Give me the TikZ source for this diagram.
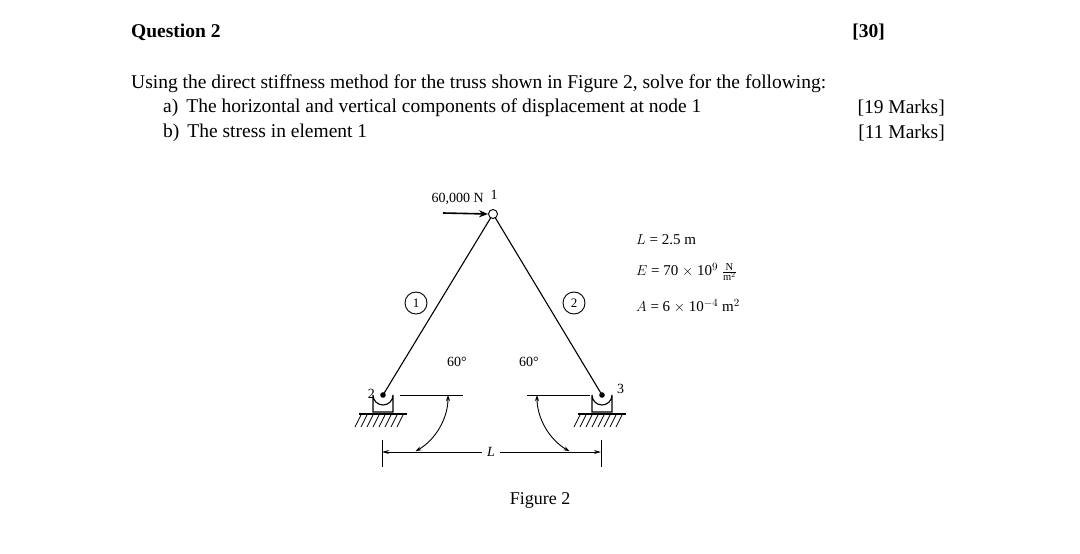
\documentclass[tikz,border=0pt]{standalone}
\usepackage{fontspec}
\setmainfont{Liberation Serif}
\usetikzlibrary{arrows.meta,patterns}
\begin{document}
\begin{tikzpicture}[x=1pt,y=-1pt,
  txt/.style={inner sep=0pt,font=\fontsize{19.5}{22}\selectfont},
  lbl/.style={inner sep=0pt,font=\fontsize{14}{16}\selectfont},
  mem/.style={line width=1.1pt},
  circ/.style={draw,circle,line width=0.9pt,minimum size=22pt,inner sep=0pt,font=\fontsize{13}{14}\selectfont}]
\useasboundingbox (0,0) rectangle (1080,554);
\node[txt,anchor=west,font=\fontsize{19.5}{22}\selectfont\bfseries] (q) at (131,32) {Question 2};
\node[txt,anchor=east,font=\fontsize{19.5}{22}\selectfont\bfseries] (m) at (885,32) {[30]};
\node[txt,anchor=west] (t1) at (131,84) {Using the direct stiffness method for the truss shown in Figure 2, solve for the following:};
\node[txt,anchor=west] (ta) at (163,108) {a)\hspace{8pt}The horizontal and vertical components of displacement at node 1};
\node[txt,anchor=west] (tb) at (163,133) {b)\hspace{8pt}The stress in element 1};
\node[txt,anchor=east] (ma) at (945,108) {[19 Marks]};
\node[txt,anchor=east] (mb) at (945,133) {[11 Marks]};
% nodes
\coordinate (n1) at (493,214);
\coordinate (n2) at (383,395);
\coordinate (n3) at (602,395);
\draw[mem] (n2) -- (n1) -- (n3);
\node[draw,circle,fill=white,minimum size=9pt,inner sep=0pt,line width=0.9pt] (c1) at (n1) {};
% supports
\foreach \p/\n in {n2/s2,n3/s3}{
  \begin{scope}[shift={(\p)}]
  \draw[line width=1.1pt,fill=white] (-10,17) -- (-10,0) arc[start angle=180,end angle=0,radius=10] -- (10,17) -- cycle;
  \fill (0,0) circle (2.8);
  \draw[line width=1.1pt] (-24,19) -- (24,19);
  \foreach \k in {0,...,7} \draw[line width=0.8pt] (-22+6*\k,20) -- (-28+6*\k,32);
  \end{scope}}
\node[lbl,anchor=east] (l2) at (375,394) {2};
\node[lbl,anchor=west] (l3) at (617,389) {3};
\node[lbl] (l1) at (494,195) {1};
% force
\coordinate (fa) at (443,213);
\draw[line width=1.6pt,-{Stealth[length=9pt,width=7pt]}] (fa) -- (c1.west);
\node[lbl,anchor=east] (fl) at (484,199) {60,000 N};
% member labels
\node[circ] (e1) at (416,303) {1};
\node[circ] (e2) at (574,303) {2};
% reference lines
\coordinate (h1a) at (400,395); \coordinate (h1b) at (463,395);
\coordinate (h2a) at (527,395); \coordinate (h2b) at (590,395);
\draw[line width=0.9pt] (h1a) -- (h1b);
\draw[line width=0.9pt] (h2a) -- (h2b);
\draw[line width=0.9pt,{Stealth[length=6pt,width=4pt]}-{Stealth[length=6pt,width=4pt]}] (n2) ++(60:65) arc[start angle=60,end angle=0,radius=65];
\draw[line width=0.9pt,{Stealth[length=6pt,width=4pt]}-{Stealth[length=6pt,width=4pt]}] (n3) ++(120:65) arc[start angle=120,end angle=180,radius=65];
\node[lbl] (a1) at (457,362) {60°};
\node[lbl] (a2) at (529,362) {60°};
% dimension
\coordinate (d1) at (382,440); \coordinate (d1b) at (382,467);
\coordinate (d2) at (601,440); \coordinate (d2b) at (601,467);
\draw[line width=0.9pt] (d1) -- (d1b);
\draw[line width=0.9pt] (d2) -- (d2b);
\node[lbl,font=\fontsize{14}{16}\selectfont\itshape,fill=white,inner xsep=5pt] (L) at (491,452) {L};
\draw[line width=0.9pt,-{Stealth[length=7pt,width=4pt]}] (L.west) -- (382,452);
\draw[line width=0.9pt,-{Stealth[length=7pt,width=4pt]}] (L.east) -- (601,452);
% data
\node[lbl,anchor=west,font=\fontsize{15}{17}\selectfont] (dL) at (636,240) {$L$ = 2.5 m};
\node[lbl,anchor=west,font=\fontsize{15}{17}\selectfont] (dE) at (636,272) {$E$ = 70 $\times$ 10$^9$ $\frac{\mathrm{N}}{\mathrm{m}^2}$};
\node[lbl,anchor=west,font=\fontsize{15}{17}\selectfont] (dA) at (636,306) {$A$ = 6 $\times$ 10$^{-4}$ m$^2$};
\node[txt,font=\fontsize{18}{20}\selectfont] (fig) at (540,500) {Figure 2};
\end{tikzpicture}
\end{document}
